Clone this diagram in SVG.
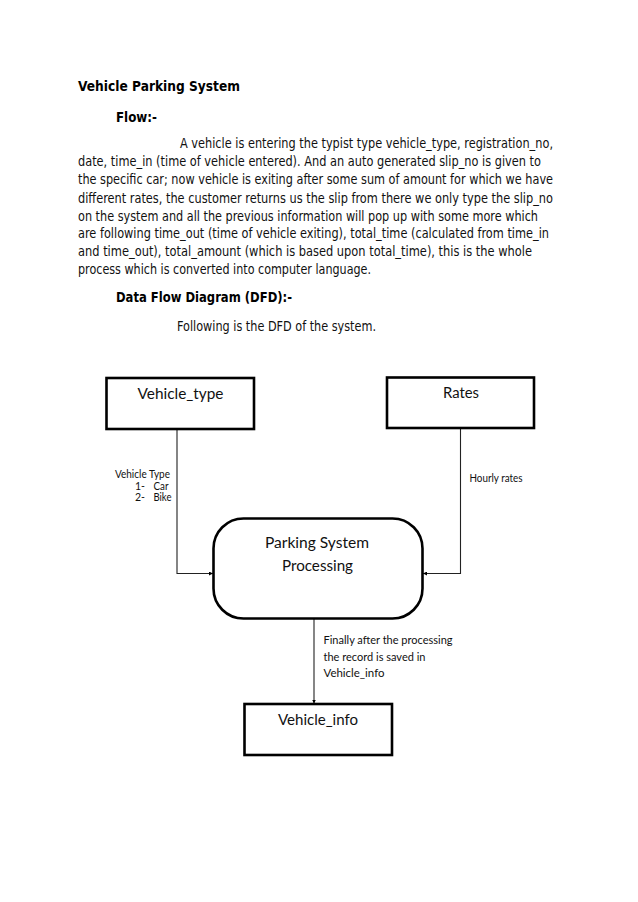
<svg xmlns="http://www.w3.org/2000/svg" width="638" height="902" viewBox="0 0 638 902">
<style>
.h{font-family:"DejaVu Sans","Liberation Sans",sans-serif;font-weight:bold;font-size:14.5px;fill:#000}
.b{font-family:"DejaVu Sans","Liberation Sans",sans-serif;font-size:13.5px;fill:#111}
.n{font-family:Lato,"Liberation Sans",sans-serif;font-size:15.5px;fill:#111}
.s{font-family:Lato,"Liberation Sans",sans-serif;font-size:10.5px;fill:#111}
.box{fill:#fff;stroke:#000;stroke-width:2.6}
.ln{fill:none;stroke:#222;stroke-width:1.1}
</style>
<defs>
<marker id="ah" viewBox="0 0 10 10" refX="10" refY="5" markerWidth="4" markerHeight="4" orient="auto" markerUnits="userSpaceOnUse">
<path d="M0,0L10,5L0,10z" fill="#000"/>
</marker>
</defs>
<rect width="638" height="902" fill="#fff"/>
<g id="text">
<text class="h" x="78" y="91" textLength="162" lengthAdjust="spacingAndGlyphs">Vehicle Parking System</text>
<text class="h" x="116" y="122" textLength="41" lengthAdjust="spacingAndGlyphs">Flow:-</text>
<text class="b" x="180" y="148" textLength="373" lengthAdjust="spacingAndGlyphs">A vehicle is entering the typist type vehicle_type, registration_no,</text>
<text class="b" x="78" y="166" textLength="463" lengthAdjust="spacingAndGlyphs">date, time_in (time of vehicle entered). And an auto generated slip_no is given to</text>
<text class="b" x="78" y="184" textLength="475" lengthAdjust="spacingAndGlyphs">the specific car; now vehicle is exiting after some sum of amount for which we have</text>
<text class="b" x="78" y="203" textLength="475" lengthAdjust="spacingAndGlyphs">different rates, the customer returns us the slip from there we only type the slip_no</text>
<text class="b" x="78" y="220.5" textLength="460" lengthAdjust="spacingAndGlyphs">on the system and all the previous information will pop up with some more which</text>
<text class="b" x="78" y="238" textLength="471" lengthAdjust="spacingAndGlyphs">are following time_out (time of vehicle exiting), total_time (calculated from time_in</text>
<text class="b" x="78" y="256" textLength="454" lengthAdjust="spacingAndGlyphs">and time_out), total_amount (which is based upon total_time), this is the whole</text>
<text class="b" x="78" y="273.5" textLength="293" lengthAdjust="spacingAndGlyphs">process which is converted into computer language.</text>
<text class="h" x="116" y="302" textLength="176" lengthAdjust="spacingAndGlyphs">Data Flow Diagram (DFD):-</text>
<text class="b" x="177" y="330.5" textLength="199" lengthAdjust="spacingAndGlyphs">Following is the DFD of the system.</text>
</g>
<g id="connectors">
<polyline class="ln" points="177,429.5 177,573.5 213,573.5" marker-end="url(#ah)"/>
<polyline class="ln" points="460.5,428.5 460.5,573.5 423,573.5" marker-end="url(#ah)"/>
<line class="ln" x1="314" y1="619" x2="314" y2="703.5" marker-end="url(#ah)"/>
<text class="s" x="115" y="477.5" textLength="55" lengthAdjust="spacingAndGlyphs">Vehicle Type</text>
<text class="s" x="135" y="490">1-</text>
<text class="s" x="153.5" y="490" textLength="15" lengthAdjust="spacingAndGlyphs">Car</text>
<text class="s" x="135" y="501">2-</text>
<text class="s" x="153.5" y="501" textLength="18" lengthAdjust="spacingAndGlyphs">Bike</text>
<text class="s" x="469.5" y="482" textLength="53" lengthAdjust="spacingAndGlyphs">Hourly rates</text>
<text class="s" x="323.5" y="643.5" textLength="129" lengthAdjust="spacingAndGlyphs">Finally after the processing</text>
<text class="s" x="323.5" y="660.5" textLength="102" lengthAdjust="spacingAndGlyphs">the record is saved in</text>
<text class="s" x="323.5" y="677" textLength="61" lengthAdjust="spacingAndGlyphs">Vehicle_info</text>
</g>
<g id="vehicle_type">
<rect class="box" x="106.5" y="378" width="147.5" height="51"/>
<text class="n" x="137.5" y="398.5" textLength="86" lengthAdjust="spacingAndGlyphs">Vehicle_type</text>
</g>
<g id="rates">
<rect class="box" x="387" y="377.5" width="147" height="50.5"/>
<text class="n" x="443" y="398" textLength="36" lengthAdjust="spacingAndGlyphs">Rates</text>
</g>
<g id="processing">
<rect class="box" x="213.5" y="518.5" width="209" height="100" rx="30" ry="30"/>
<text class="n" x="265" y="547.5" textLength="104" lengthAdjust="spacingAndGlyphs">Parking System</text>
<text class="n" x="282" y="571" textLength="71" lengthAdjust="spacingAndGlyphs">Processing</text>
</g>
<g id="vehicle_info">
<rect class="box" x="244.5" y="704" width="147.5" height="51"/>
<text class="n" x="278" y="725" textLength="80" lengthAdjust="spacingAndGlyphs">Vehicle_info</text>
</g>
</svg>
